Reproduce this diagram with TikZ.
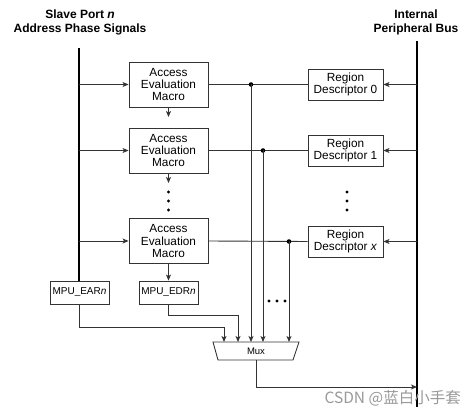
\documentclass[tikz,border=0pt]{standalone}
\usepackage{fontspec}
\setmainfont{Liberation Sans}
\newfontfamily\cjkfont{Noto Sans CJK SC}
\usetikzlibrary{arrows.meta}
\definecolor{ln}{HTML}{333333}
\begin{document}
\begin{tikzpicture}[x=1pt,y=-1pt,
  every node/.style={text=black},
  box/.style={draw=ln,line width=0.9pt,align=center,inner sep=0pt},
  aem/.style={box,minimum width=79pt,minimum height=45pt,font=\fontsize{11.8}{12.3}\selectfont},
  rgn/.style={box,minimum width=75pt,minimum height=31pt,font=\fontsize{11.8}{12.3}\selectfont},
  reg/.style={box,minimum width=59pt,minimum height=23pt,font=\fontsize{10}{12}\selectfont},
  ttl/.style={align=center,font=\fontsize{12}{14}\selectfont\bfseries,inner sep=0pt},
  wire/.style={draw=ln,line width=0.9pt},
  arr/.style={wire,-{Stealth[length=6pt,width=5pt,inset=1.5pt]}},
  bus/.style={draw=black,line width=2pt},
  jdot/.style={fill=black},
  sdot/.style={fill=black}]
\useasboundingbox (0,0) rectangle (474,414);

% titles
\node[ttl] (tl) at (80,22) {Slave Port \textit{n}\\Address Phase Signals};
\node[ttl] (tr) at (416,22) {Internal\\Peripheral Bus};

% buses
\coordinate (lbtop) at (79,48);
\coordinate (rbtop) at (417,41);
\coordinate (rbbot) at (417,407);

% boxes
\node[aem] (a1) at (168.5,84.5) {Access\\Evaluation\\Macro};
\node[aem] (a2) at (168.5,150.5) {Access\\Evaluation\\Macro};
\node[aem] (a3) at (168.5,241) {Access\\Evaluation\\Macro};
\node[rgn] (r1) at (345.5,84.5) {Region\\Descriptor 0};
\node[rgn] (r2) at (345.5,150.5) {Region\\Descriptor 1};
\node[rgn] (r3) at (345.5,241.5) {Region\\Descriptor \textit{x}};
\node[reg] (ear) at (79.5,292.5) {MPU\_EAR\textit{n}};
\node[reg] (edr) at (168.5,292.5) {MPU\_EDR\textit{n}};

% mux
\draw[wire] (213,342) -- (299,342) -- (293,360) -- (218,360) -- cycle;
\node[font=\fontsize{9.5}{10}\selectfont,inner sep=0pt] (mux) at (256,351) {Mux};
\coordinate (mout) at (256,360);
\coordinate (in1) at (224,342);
\coordinate (in2) at (238,342);
\coordinate (in3) at (251,342);
\coordinate (in4) at (263,342);
\coordinate (in5) at (289,342);

% bus lines
\draw[bus] (lbtop) -- (ear.north -| lbtop);
\draw[bus] (rbtop) -- (rbbot);

% left bus to AEMs
\draw[arr] (lbtop |- a1.west) -- (a1.west);
\draw[arr] (lbtop |- a2.west) -- (a2.west);
\draw[arr] (lbtop |- a3.west) -- (a3.west);

% right bus to region descriptors
\draw[arr] (rbtop |- r1.east) -- (r1.east);
\draw[arr] (rbtop |- r2.east) -- (r2.east);
\draw[arr] (rbtop |- r3.east) -- (r3.east);

% AEM to region descriptors
\draw[wire] (a1.east) -- (r1.west);
\draw[wire] (a2.east) -- (r2.west);
\draw[wire] (a3.east) -- (r3.west);

% junctions
\coordinate (j1) at (251,84.5);
\coordinate (j2) at (263,150.5);
\coordinate (j3) at (289,241.5);
\fill[jdot] (j1) circle (2.3pt);
\fill[jdot] (j2) circle (2.3pt);
\fill[jdot] (j3) circle (2.3pt);
\draw[arr] (j1) -- (in3);
\draw[arr] (j2) -- (in4);
\draw[arr] (j3) -- (in5);

% AEM chain stubs
\coordinate (s1) at (168.5,117);
\coordinate (s2) at (168.5,183);
\draw[arr] (a1.south) -- (s1);
\draw[arr] (a2.south) -- (s2);
\draw[arr] (a3.south) -- (edr.north);

% vertical dots
\foreach \yy in {192,201,210} {
  \fill[sdot] (168.5,\yy) circle (1.7pt);
  \fill[sdot] (347,\yy) circle (1.7pt);
}
% horizontal dots
\foreach \xx in {269,277,285} {
  \fill[sdot] (\xx,301) circle (1.7pt);
}

% registers to mux
\draw[arr] (ear.south) -- (79.5,327) -- (224,327) -- (in1);
\draw[arr] (edr.south) -- (168.5,315) -- (238,315) -- (in2);

% mux output
\draw[arr] (mout) -- (256,387) -- (rbbot |- 0,387);

% watermark
\node[anchor=east,text=black!40,font=\cjkfont\fontsize{15.5}{17}\selectfont,inner sep=0pt] (wm) at (461,398) {CSDN @蓝白小手套};
\end{tikzpicture}
\end{document}
